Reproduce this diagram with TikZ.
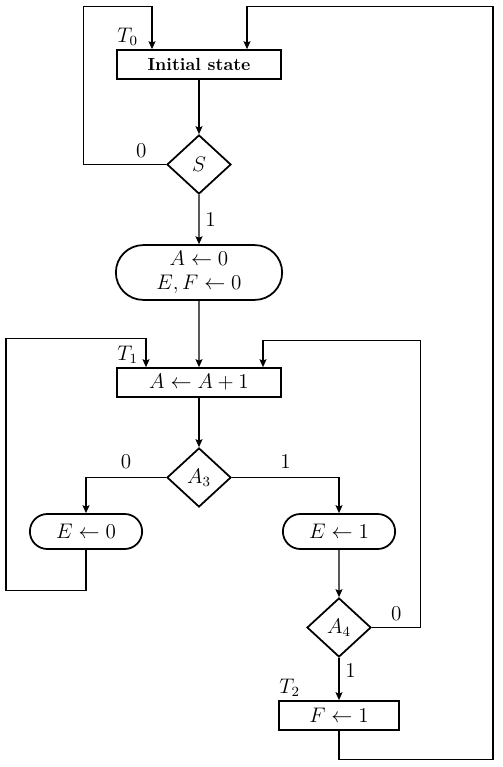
\documentclass[tikz,border=0pt]{standalone}
\usepackage{amsmath}
\usepackage{tikz}
\usetikzlibrary{shapes.geometric, shapes.misc, arrows.meta}
\tikzstyle{process} = [rectangle, minimum width=3.28cm, minimum height=0.58cm, text centered, draw=black, line width=1pt]
\tikzstyle{regop} = [rounded rectangle, minimum width=2.48cm, minimum height=0.7cm, text centered, align=center, draw=black, line width=1pt]
\tikzstyle{decision} = [diamond, minimum width=1.28cm, minimum height=1.18cm, inner sep=0pt, text centered, draw=black, line width=1pt]
\tikzstyle{arrow} = [line width=0.6pt, -{Stealth[length=4.5pt, width=4pt, inset=0.8pt]}]
\tikzstyle{tstate} = [anchor=south west, inner sep=2pt]

\begin{document}
\begin{tikzpicture}[node distance=2cm, font=\large]
\useasboundingbox (0,0) rectangle (10.04,-15.34);

\node (init) [process, font=\normalsize] at (3.98,-1.29) {\textbf{Initial state}};
\node (S) [decision, below of=init] {$S$};
\node (clr) [regop, below of=S, yshift=-0.16cm, minimum width=3.56cm, minimum height=1.04cm] {$A \leftarrow 0$\\$E, F \leftarrow 0$};
\node (inc) [process, below of=clr, yshift=-0.2cm] {$A \leftarrow A + 1$};
\node (A3) [decision, below of=inc, yshift=0.1cm] {$A_3$};
\node (E0) [regop, below of=A3, xshift=-2.26cm, yshift=0.92cm] {$E \leftarrow 0$};
\node (E1) [regop, below of=A3, xshift=2.8cm, yshift=0.92cm] {$E \leftarrow 1$};
\node (A4) [decision, below of=E1, yshift=0.08cm] {$A_4$};
\node (F1) [process, below of=A4, yshift=0.24cm, minimum width=2.4cm] {$F \leftarrow 1$};

\node (T0) [tstate] at ([xshift=-0.05cm]init.north west) {$T_0$};
\node (T1) [tstate] at ([xshift=-0.05cm]inc.north west) {$T_1$};
\node (T2) [tstate] at ([xshift=-0.05cm]F1.north west) {$T_2$};

\draw [arrow] (init) -- (S);
\draw [arrow] (S) -- node[anchor=west] {1} (clr);
\draw [arrow] (clr) -- (inc);
\draw [arrow] (inc) -- (A3);
\draw [arrow] (A3.west) -| node[anchor=south, pos=0.25, yshift=0.05cm] {0} (E0);
\draw [arrow] (A3.east) -| node[anchor=south, pos=0.25, yshift=0.05cm] {1} (E1);
\draw [arrow] (E1) -- (A4);
\draw [arrow] (A4) -- node[anchor=west, pos=0.3] {1} (F1);
\draw [arrow] (S.west) -- node[anchor=south, pos=0.3] {0} ++(-1.66,0) |- ([xshift=-0.94cm, yshift=0.86cm]init.north) -- ([xshift=-0.94cm]init.north);
\draw [arrow] (E0.south) |- ++(-1.6,-0.82) |- ([xshift=-1.06cm, yshift=0.58cm]inc.north) -- ([xshift=-1.06cm]inc.north);
\draw [arrow] (A4.east) -- node[anchor=south] {0} ++(0.98,0) |- ([xshift=1.28cm, yshift=0.54cm]inc.north) -- ([xshift=1.28cm]inc.north);
\draw [arrow] (F1.south) |- ++(3.08,-0.58) |- ([xshift=0.96cm, yshift=0.86cm]init.north) -- ([xshift=0.96cm]init.north);

\end{tikzpicture}
\end{document}
